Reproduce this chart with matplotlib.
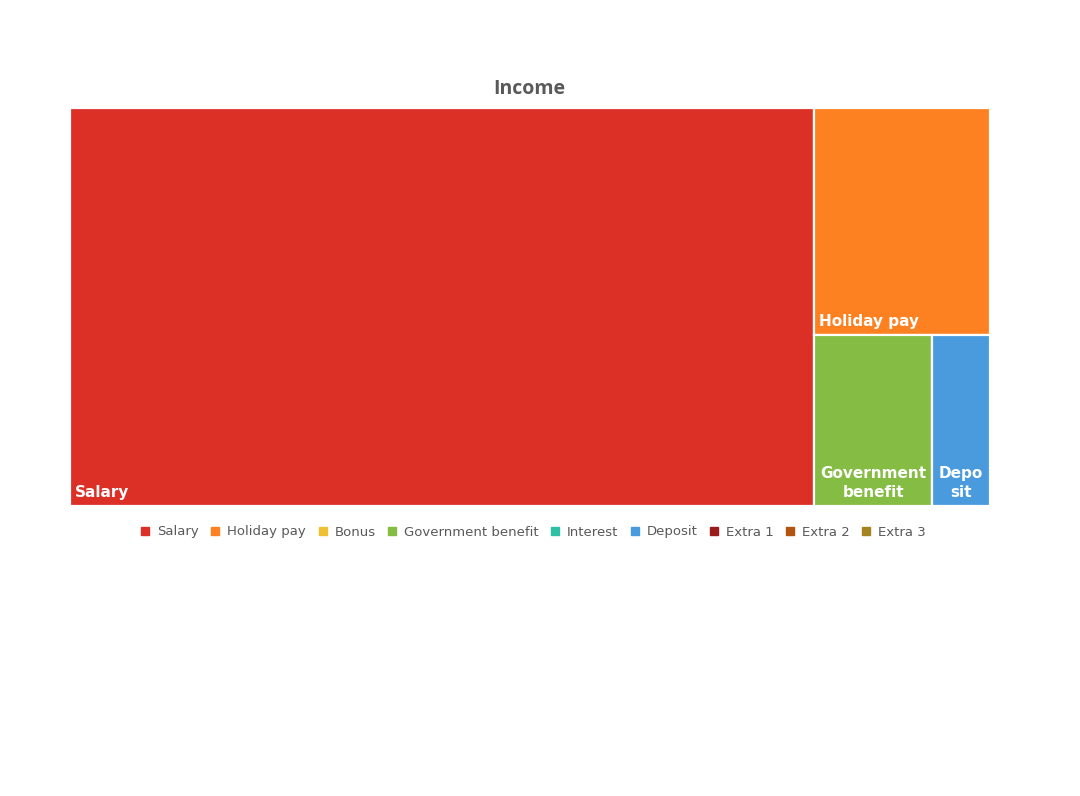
import matplotlib
matplotlib.use("Agg")
import matplotlib.pyplot as plt
from matplotlib.patches import Rectangle
from matplotlib.lines import Line2D

categories = ["Salary", "Holiday pay", "Bonus", "Government benefit", "Interest",
              "Deposit", "Extra 1", "Extra 2", "Extra 3"]
values = [3000, 405, 0, 204, 0, 100, 0, 0, 0]
colors = ["#DC3027", "#FD8120", "#EFC033", "#85BC44", "#2DC0A2",
          "#4A9BDD", "#9B1B1B", "#B2540F", "#A38421"]
tile_labels = {"Salary": "Salary", "Holiday pay": "Holiday pay",
               "Government benefit": "Government\nbenefit", "Deposit": "Depo\nsit"}
title = "Income"


def worst(row, w):
    s = sum(row)
    return max(max(w * w * r / (s * s), (s * s) / (w * w * r)) for r in row)


def layout_row(row, x, y, dx, dy, vertical):
    rects = []
    s = sum(row)
    if vertical:  # strip on the left, full height
        width = s / dy
        yy = y
        for r in row:
            h = r / width
            rects.append((x, yy, width, h))
            yy += h
        return rects, (x + width, y, dx - width, dy)
    else:
        height = s / dx
        xx = x
        for r in row:
            w = r / height
            rects.append((xx, y, w, height))
            xx += w
        return rects, (x, y + height, dx, dy - height)


def squarify(sizes, x, y, dx, dy):
    total = sum(sizes)
    sizes = [s * dx * dy / total for s in sizes]
    rects = []
    remaining = list(sizes)
    while remaining:
        vertical = dx >= dy
        short = dy if vertical else dx
        row = [remaining[0]]
        i = 1
        while i < len(remaining) and worst(row + [remaining[i]], short) <= worst(row, short):
            row.append(remaining[i])
            i += 1
        r, (x, y, dx, dy) = layout_row(row, x, y, dx, dy, vertical)
        rects.extend(r)
        remaining = remaining[i:]
    return rects


fig = plt.figure(figsize=(10.8, 7.96), dpi=100)
ax = fig.add_axes([0, 0, 1, 1])
ax.set_xlim(0, 1080)
ax.set_ylim(796, 0)
ax.axis("off")

X0, Y0, W, H = 70, 108, 920, 398
shown = [(c, v, col) for c, v, col in zip(categories, values, colors) if v > 0]
order = sorted(shown, key=lambda t: -t[1])
rects = squarify([t[1] for t in order], X0, Y0, W, H)

for (name, v, col), (rx, ry, rw, rh) in zip(order, rects):
    ax.add_patch(Rectangle((rx, ry), rw, rh, facecolor=col, edgecolor="white", linewidth=1.6))
    lab = tile_labels.get(name, name)
    if "\n" in lab:
        ax.text(rx + rw / 2, ry + rh - 6, lab, ha="center", va="bottom", color="white",
                fontsize=11, fontweight="bold", family="DejaVu Sans", linespacing=1.3)
    else:
        ax.text(rx + 5, ry + rh - 6, lab, ha="left", va="bottom", color="white",
                fontsize=11, fontweight="bold", family="DejaVu Sans")

ax.text(529, 89, title, ha="center", va="center", fontsize=14, fontweight="bold",
        color="#595959", family="Open Sans")

handles = [Line2D([], [], marker="s", linestyle="none", markersize=6,
                  markerfacecolor=c, markeredgecolor=c) for c in colors]
leg = ax.legend(handles, categories, loc="center", bbox_to_anchor=(533 / 1080, 1 - 532 / 796),
                ncol=9, frameon=False, handlelength=0.8, handletextpad=0.5,
                columnspacing=0.85, labelcolor="#595959", prop={"family": "DejaVu Sans", "size": 9.5})

fig.savefig("out.png", dpi=100)
